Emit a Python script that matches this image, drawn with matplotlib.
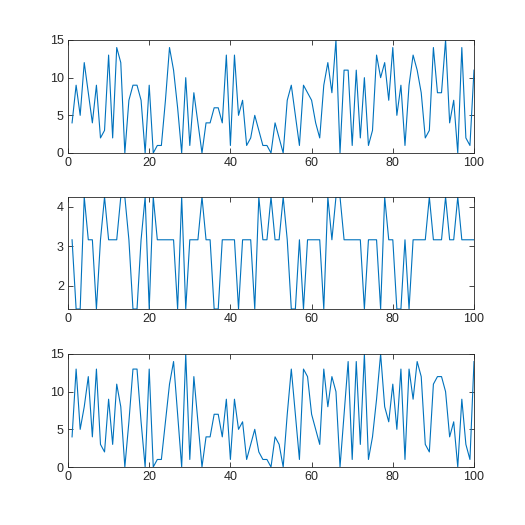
import matplotlib
matplotlib.use("Agg")
import matplotlib.pyplot as plt
import numpy as np

x = list(range(1, 101))

top_vals = [4, 9, 5, 12, 8, 4, 9, 2, 3, 13,
            2, 14, 12, 0, 7, 9, 9, 7, 0, 9,
            0, 1, 1, 7, 14, 11, 6, 0, 10, 1,
            8, 4, 0, 4, 4, 6, 6, 4, 13, 1,
            13, 5, 7, 1, 2, 5, 3, 1, 1, 0,
            4, 2, 0, 7, 9, 5, 1, 9, 8, 7,
            4, 2, 9, 12, 8, 15, 0, 11, 11, 1,
            11, 2, 10, 1, 3, 13, 10, 12, 7, 14,
            5, 9, 1, 9, 13, 11, 8, 2, 3, 14,
            8, 8, 15, 4, 7, 0, 14, 2, 1, 11]

L, M, H = 1.4142, 3.1623, 4.2426
mid_vals = [M, L, L, H, M, M, L, M, H, M,
            M, M, H, H, M, L, L, M, H, L,
            H, M, M, M, M, M, L, H, L, M,
            M, M, H, M, M, L, L, M, M, M,
            M, L, M, M, M, L, H, M, M, H,
            M, M, H, M, L, L, M, L, M, M,
            M, M, L, H, M, H, H, M, M, M,
            M, M, L, M, M, M, L, H, M, M,
            L, L, M, L, M, M, M, M, H, M,
            M, M, H, M, M, H, M, M, M, M]

bot_vals = [4, 13, 5, 8, 12, 4, 13, 3, 2, 9,
            3, 11, 8, 0, 6, 13, 13, 6, 0, 13,
            0, 1, 1, 6, 11, 14, 7, 0, 15, 1,
            12, 6, 0, 4, 4, 7, 7, 4, 9, 1,
            9, 5, 6, 1, 3, 5, 2, 1, 1, 0,
            4, 3, 0, 7, 13, 7, 1, 13, 12, 7,
            5, 3, 13, 8, 12, 10, 0, 7, 14, 1,
            14, 3, 15, 1, 4, 9, 15, 8, 6, 11,
            5, 13, 1, 13, 9, 14, 12, 3, 2, 11,
            12, 12, 10, 4, 6, 0, 9, 3, 1, 14]

xticks = [0, 20, 40, 60, 80, 100]
yticks_outer = [0, 5, 10, 15]
yticks_mid = [2, 3, 4]

line_color = "#0072BD"
axis_color = "#262626"

plt.rcParams['font.family'] = ['Liberation Sans', 'DejaVu Sans']

fig = plt.figure(figsize=(5.25, 5.25), dpi=100)
fig.patch.set_facecolor("white")

positions = [
    [68/525, 1 - 153/525, 406/525, 113/525],
    [68/525, 1 - 309/525, 406/525, 112/525],
    [68/525, 1 - 467/525, 406/525, 113/525],
]
series = [top_vals, mid_vals, bot_vals]
ylims = [(0, 15), (L, H), (0, 15)]
yticks = [yticks_outer, yticks_mid, yticks_outer]

for pos, vals, yl, yt in zip(positions, series, ylims, yticks):
    ax = fig.add_axes(pos)
    ax.plot(x, vals, color=line_color, linewidth=0.8)
    ax.set_xlim(0, 100)
    ax.set_ylim(*yl)
    ax.set_xticks(xticks)
    ax.set_yticks(yt)
    ax.tick_params(direction="in", length=3.5, width=0.6, colors=axis_color,
                   top=True, right=True, labelsize=9, pad=3)
    for sp in ax.spines.values():
        sp.set_color(axis_color)
        sp.set_linewidth(0.6)

fig.savefig("out.png", dpi=100, facecolor="white")
